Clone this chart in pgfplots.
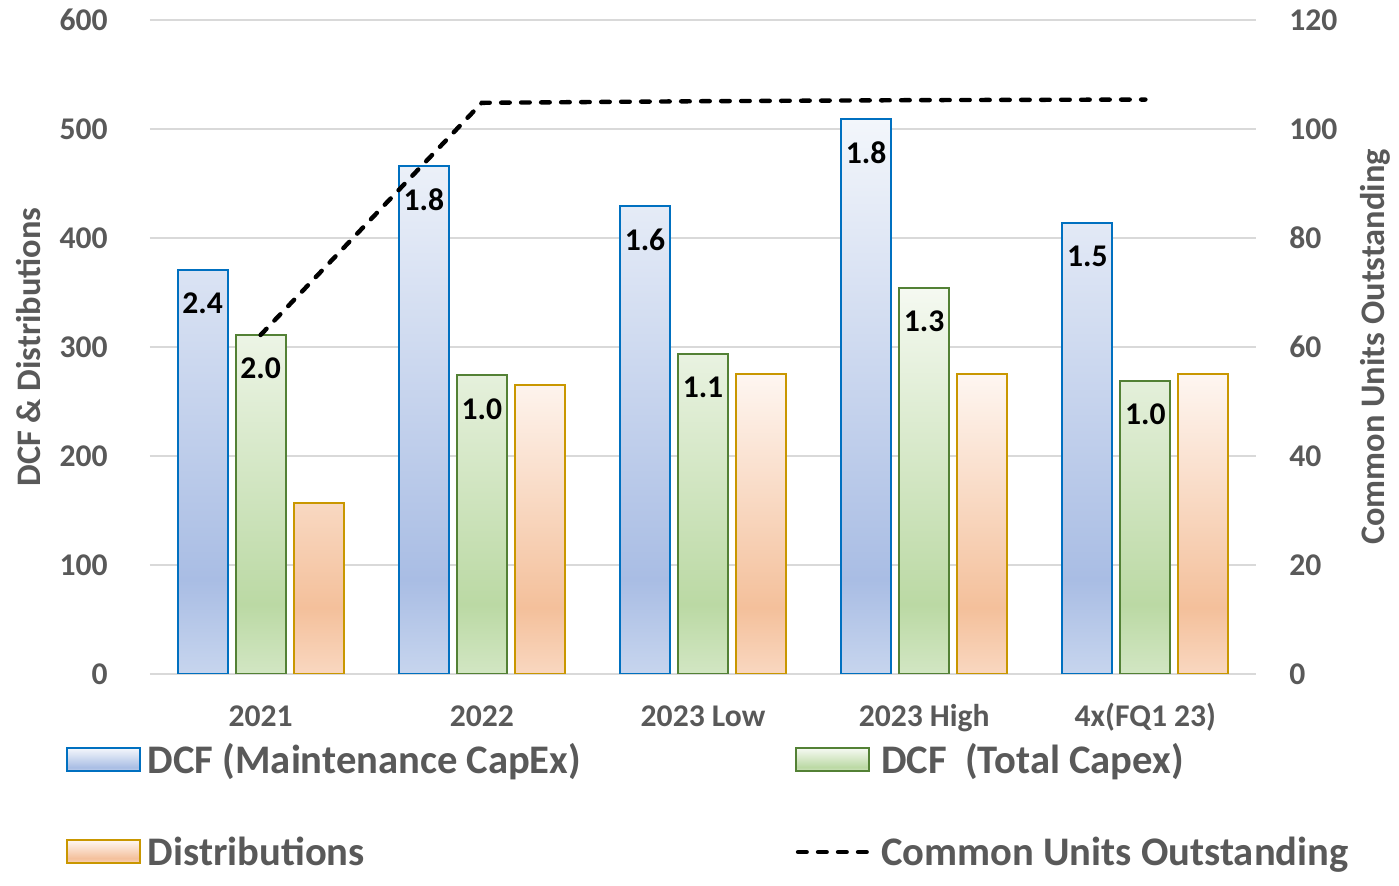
\documentclass[border=0pt]{standalone}
\usepackage{fontspec}
\setmainfont{Carlito}
\usepackage{pgfplots}
\pgfplotsset{compat=1.18}

\definecolor{tickgrey}{HTML}{595959}
\definecolor{gridgrey}{HTML}{D9D9D9}
\definecolor{bluebord}{HTML}{0070C0}
\definecolor{greenbord}{HTML}{538135}
\definecolor{orangebord}{HTML}{C99700}
\definecolor{bluetop}{HTML}{F3F6FB}
\definecolor{bluedark}{HTML}{A9BDE4}
\definecolor{bluebot}{HTML}{C7D5EE}
\definecolor{greentop}{HTML}{F5F9F1}
\definecolor{greendark}{HTML}{BBD9A4}
\definecolor{greenbot}{HTML}{D2E6C3}
\definecolor{orangetop}{HTML}{FEF6F1}
\definecolor{orangedark}{HTML}{F4C09B}
\definecolor{orangebot}{HTML}{F9D7C0}

% light at the top, darkest near the bottom, a bit lighter at the foot
\pgfdeclareverticalshading{blueshade}{100bp}{color(0bp)=(bluebot); color(25bp)=(bluebot); color(33.5bp)=(bluedark); color(75bp)=(bluetop); color(100bp)=(bluetop)}
\pgfdeclareverticalshading{greenshade}{100bp}{color(0bp)=(greenbot); color(25bp)=(greenbot); color(34bp)=(greendark); color(75bp)=(greentop); color(100bp)=(greentop)}
\pgfdeclareverticalshading{orangeshade}{100bp}{color(0bp)=(orangebot); color(25bp)=(orangebot); color(36bp)=(orangedark); color(75bp)=(orangetop); color(100bp)=(orangetop)}

\newcommand{\tickfont}{\fontsize{15.8}{18}\selectfont\bfseries}
\newcommand{\labfont}{\fontsize{17.2}{20}\selectfont\bfseries}
\newcommand{\legfont}{\fontsize{20.3}{24}\selectfont\bfseries}

\pgfplotsset{
    barleg/.style={legend image code/.code={\draw[##1] (0pt,-5.75pt) rectangle (36.5pt,5.75pt);}},
    lineleg/.style={legend image code/.code={\draw[##1] (1pt,0pt) -- (38pt,0pt);}},
    unitsline/.style={black, line width=2.2pt, dash pattern=on 4.3pt off 5.7pt, line cap=round},
}

\begin{document}
\begin{tikzpicture}
\useasboundingbox (-75pt,-106pt) rectangle (624.5pt,337pt);
\begin{axis}[
    scale only axis,
    width=553pt, height=327pt,
    xmin=-0.5, xmax=4.5,
    ymin=0, ymax=600,
    xtick={0,1,2,3,4},
    xticklabels={2021,2022,2023 Low,2023 High,4x(FQ1 23)},
    ytick={0,100,200,300,400,500,600},
    ymajorgrids=true,
    grid style={line width=0.75pt, color=gridgrey},
    axis line style={draw=none},
    major tick length=0pt,
    /pgf/number format/assume math mode=true,
    tick label style={font=\tickfont, text=tickgrey},
    xticklabel style={anchor=base, inner sep=0pt, yshift=-26.5pt},
    yticklabel style={anchor=east, inner sep=0pt, xshift=-21pt},
    ylabel={DCF \& Distributions},
    ylabel style={font=\labfont, text=tickgrey, at={(axis description cs:-0.1094,0.5)}, anchor=center},
    ybar=4pt, bar width=25pt,
    every node near coord/.append style={font=\tickfont, text=black, anchor=center, yshift=-16.75pt},
    legend columns=2,
    legend cell align=left,
    legend style={at={(axis description cs:-0.0760,-0.1113)}, anchor=north west,
        draw=none, fill=none, inner sep=0pt, outer sep=0pt,
        row sep=32.8pt, column sep=3.5pt,
        /tikz/every even column/.append style={column sep=107pt},
        font=\legfont, text=tickgrey,
        nodes={inner sep=0pt, text height=13.2pt, text depth=0pt}},
]
\addplot[draw=bluebord, line width=1pt, shade, shading=blueshade,
    nodes near coords, point meta=explicit symbolic, barleg]
    coordinates {(0,371) [2.4] (1,466) [1.8] (2,429) [1.6] (3,509) [1.8] (4,414) [1.5]};
\addplot[draw=greenbord, line width=1pt, shade, shading=greenshade,
    nodes near coords, point meta=explicit symbolic, barleg]
    coordinates {(0,311) [2.0] (1,274) [1.0] (2,294) [1.1] (3,354) [1.3] (4,269) [1.0]};
\addplot[draw=orangebord, line width=1pt, shade, shading=orangeshade, barleg]
    coordinates {(0,157) (1,265) (2,275) (3,275) (4,275)};
\addlegendimage{unitsline, lineleg}
\legend{DCF (Maintenance CapEx), DCF\ \ (Total Capex), Distributions, Common Units Outstanding}
\end{axis}
\begin{axis}[
    scale only axis,
    width=553pt, height=327pt,
    xmin=-0.5, xmax=4.5,
    ymin=0, ymax=120,
    hide x axis,
    ytick={0,20,40,60,80,100,120},
    yticklabel pos=right,
    axis line style={draw=none},
    major tick length=0pt,
    /pgf/number format/assume math mode=true,
    tick label style={font=\tickfont, text=tickgrey},
    yticklabel style={anchor=west, inner sep=0pt, xshift=16.5pt},
    ylabel={Common Units Outstanding},
    ylabel style={font=\labfont, text=tickgrey, at={(axis description cs:1.1076,0.5)}, anchor=center},
]
\addplot[unitsline]
    coordinates {(0,62.2) (1,104.8) (2,105.1) (3,105.3) (4,105.4)};
\end{axis}
\end{tikzpicture}
\end{document}
